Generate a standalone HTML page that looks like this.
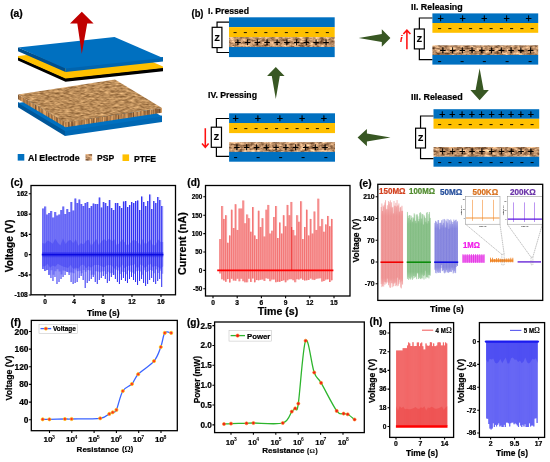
<!DOCTYPE html>
<html lang="en"><head><meta charset="utf-8"><title>PSP TENG figure</title>
<style>html,body{margin:0;padding:0;background:#fff}body{width:550px;height:462px;overflow:hidden}svg{display:block}svg text{font-family:"Liberation Sans", Arial, sans-serif}</style></head><body>
<svg width="550" height="462" viewBox="0 0 550 462">
<defs>
<filter id="psp" x="0" y="0" width="100%" height="100%" color-interpolation-filters="sRGB">
<feTurbulence type="fractalNoise" baseFrequency="0.2 0.55" numOctaves="2" seed="7" result="n"/>
<feColorMatrix in="n" type="matrix" values="0.6 0 0 0 0.43  0.55 0 0 0 0.275  0.45 0 0 0 0.125  0 0 0 0 1" result="c"/>
<feComposite in="c" in2="SourceGraphic" operator="in"/>
</filter>
<filter id="psp2" x="0" y="0" width="100%" height="100%" color-interpolation-filters="sRGB">
<feTurbulence type="fractalNoise" baseFrequency="0.2 0.36" numOctaves="3" seed="11" result="n"/>
<feColorMatrix in="n" type="matrix" values="1.1 0 0 0 0.18  1.0 0 0 0 0.055  0.85 0 0 0 -0.025  0 0 0 0 1" result="c"/>
<feComposite in="c" in2="SourceGraphic" operator="in"/>
</filter>
<filter id="pspside" x="0" y="0" width="100%" height="100%" color-interpolation-filters="sRGB">
<feTurbulence type="fractalNoise" baseFrequency="0.6 0.05" numOctaves="1" seed="3" result="n"/>
<feColorMatrix in="n" type="matrix" values="1.1 0 0 0 0.15  0.9 0 0 0 0.05  0.6 0 0 0 0.0  0 0 0 0 1" result="c"/>
<feComposite in="c" in2="SourceGraphic" operator="in"/>
</filter>
</defs>
<rect width="550" height="462" fill="#fff"/>
<g id="panel-a">
<text x="10.20" y="16.60" font-size="10.4" font-weight="bold" fill="#000" text-anchor="start" stroke="#000" stroke-width="0.22" textLength="12.60" lengthAdjust="spacingAndGlyphs">(a)</text>
<polygon points="18,102 65,130 65,136 18,107.2" fill="#00579A"/>
<polygon points="65,130 162,115.5 162,122 65,136" fill="#0068B4"/>
<polygon points="18,103 115,88 162,116.5 65,131" fill="#0070C0"/>
<polygon points="18,99.3 65.5,127.3 162,112.8 162,108 65.5,122 18,94.5" fill="#9a6a3a" filter="url(#pspside)"/>
<polygon points="18,94.5 115,79.5 162,108 65.5,122.5" fill="#b58a5a" filter="url(#psp)"/>
<polygon points="18,57 65.5,78 163,67.4 163,71.2 65.5,81.7 18,60.6" fill="#000"/>
<polygon points="18,56.1 114.5,45.6 163,66.6 163,68 65.5,78.6 18,57.5" fill="#FFC000"/>
<polygon points="18,47.5 65.5,67.6 65.5,72.1 18,51.3" fill="#004E8C"/>
<polygon points="65.5,67.6 163,57 163,61.5 65.5,72.1" fill="#0064AE"/>
<polygon points="18,47.5 114.5,37 163,58 65.5,68.6" fill="#0070C0"/>
<polygon points="81.8,11.8 93.6,23.6 87.2,23.6 81.8,54 77.3,23.6 70,23.6" fill="#C00000"/>
<rect x="17.7" y="154" width="6.6" height="6.6" fill="#0070C0"/>
<text x="28.10" y="161.00" font-size="8.8" font-weight="bold" fill="#000" text-anchor="start" stroke="#000" stroke-width="0.22" textLength="51.50" lengthAdjust="spacingAndGlyphs">Al Electrode</text>
<rect x="85.5" y="154" width="6.6" height="6.6" fill="#b58a5a" filter="url(#psp2)"/>
<text x="97.00" y="161.00" font-size="8.8" font-weight="bold" fill="#000" text-anchor="start" stroke="#000" stroke-width="0.22" textLength="17.20" lengthAdjust="spacingAndGlyphs">PSP</text>
<rect x="122.5" y="154.4" width="6.6" height="6.6" fill="#FFC000"/>
<text x="134.00" y="162.00" font-size="8.8" font-weight="bold" fill="#000" text-anchor="start" stroke="#000" stroke-width="0.22" textLength="22.00" lengthAdjust="spacingAndGlyphs">PTFE</text>
</g>
<g id="panel-b">
<text x="191.50" y="16.60" font-size="10.4" font-weight="bold" fill="#000" text-anchor="start" stroke="#000" stroke-width="0.22" textLength="12.00" lengthAdjust="spacingAndGlyphs">(b)</text>
<polygon points="390.40,38.00 381.80,46.75 381.80,42.00 358.70,38.00 381.80,34.00 381.80,29.25" fill="#385723"/>
<polygon points="479.60,100.20 470.35,89.90 475.60,89.90 479.60,68.30 483.60,89.90 488.85,89.90" fill="#385723"/>
<polygon points="357.60,137.60 366.90,128.90 366.90,133.60 390.50,137.60 366.90,141.60 366.90,146.30" fill="#385723"/>
<polygon points="275.80,67.10 284.55,76.10 279.80,76.10 275.80,99.00 271.80,76.10 267.05,76.10" fill="#385723"/>
<text x="208.00" y="14.20" font-size="8.7" font-weight="bold" fill="#000" text-anchor="start" stroke="#000" stroke-width="0.22" textLength="41.00" lengthAdjust="spacingAndGlyphs">I. Pressed</text>
<rect x="229" y="17.3" width="105.70" height="9.80" fill="#0070C0"/>
<rect x="229" y="27.1" width="105.70" height="10.10" fill="#FFC000"/>
<rect x="229" y="37.2" width="105.70" height="9.80" fill="#b58a5a" filter="url(#psp2)"/>
<rect x="229" y="47" width="105.70" height="10.10" fill="#0070C0"/>
<text x="235.10" y="36.17" font-size="12.6" font-weight="normal" fill="#1a1200" text-anchor="middle">-</text>
<text x="245.34" y="36.17" font-size="12.6" font-weight="normal" fill="#1a1200" text-anchor="middle">-</text>
<text x="255.58" y="36.17" font-size="12.6" font-weight="normal" fill="#1a1200" text-anchor="middle">-</text>
<text x="265.82" y="36.17" font-size="12.6" font-weight="normal" fill="#1a1200" text-anchor="middle">-</text>
<text x="276.06" y="36.17" font-size="12.6" font-weight="normal" fill="#1a1200" text-anchor="middle">-</text>
<text x="286.30" y="36.17" font-size="12.6" font-weight="normal" fill="#1a1200" text-anchor="middle">-</text>
<text x="296.54" y="36.17" font-size="12.6" font-weight="normal" fill="#1a1200" text-anchor="middle">-</text>
<text x="306.78" y="36.17" font-size="12.6" font-weight="normal" fill="#1a1200" text-anchor="middle">-</text>
<text x="317.02" y="36.17" font-size="12.6" font-weight="normal" fill="#1a1200" text-anchor="middle">-</text>
<text x="327.26" y="36.17" font-size="12.6" font-weight="normal" fill="#1a1200" text-anchor="middle">-</text>
<text x="237.80" y="46.30" font-size="10.6" fill="#000" stroke="#000" stroke-width="0.3" text-anchor="middle">+</text>
<text x="247.60" y="46.30" font-size="10.6" fill="#000" stroke="#000" stroke-width="0.3" text-anchor="middle">+</text>
<text x="257.40" y="46.30" font-size="10.6" fill="#000" stroke="#000" stroke-width="0.3" text-anchor="middle">+</text>
<text x="267.20" y="46.30" font-size="10.6" fill="#000" stroke="#000" stroke-width="0.3" text-anchor="middle">+</text>
<text x="277.00" y="46.30" font-size="10.6" fill="#000" stroke="#000" stroke-width="0.3" text-anchor="middle">+</text>
<text x="286.80" y="46.30" font-size="10.6" fill="#000" stroke="#000" stroke-width="0.3" text-anchor="middle">+</text>
<text x="296.60" y="46.30" font-size="10.6" fill="#000" stroke="#000" stroke-width="0.3" text-anchor="middle">+</text>
<text x="306.40" y="46.30" font-size="10.6" fill="#000" stroke="#000" stroke-width="0.3" text-anchor="middle">+</text>
<text x="316.20" y="46.30" font-size="10.6" fill="#000" stroke="#000" stroke-width="0.3" text-anchor="middle">+</text>
<text x="326.00" y="46.30" font-size="10.6" fill="#000" stroke="#000" stroke-width="0.3" text-anchor="middle">+</text>
<path d="M229 22.2H217.05V27.3M217.05 47.6V52.5H229" stroke="#000" stroke-width="1.2" fill="none"/>
<rect x="212.2" y="27.3" width="9.70" height="20.30" fill="#fff" stroke="#000" stroke-width="1.2"/>
<text x="217.05" y="40.55" font-size="8.6" font-weight="bold" fill="#000" text-anchor="middle" stroke="#000" stroke-width="0.22">Z</text>
<text x="411.00" y="9.80" font-size="8.7" font-weight="bold" fill="#000" text-anchor="start" stroke="#000" stroke-width="0.22" textLength="51.70" lengthAdjust="spacingAndGlyphs">II. Releasing</text>
<rect x="432.4" y="13.4" width="105.80" height="9.60" fill="#0070C0"/>
<rect x="432.4" y="23" width="105.80" height="9.80" fill="#FFC000"/>
<rect x="432.4" y="45.3" width="105.80" height="9.70" fill="#b58a5a" filter="url(#psp2)"/>
<rect x="432.4" y="55" width="105.80" height="9.60" fill="#0070C0"/>
<text x="440.50" y="22.20" font-size="10.6" fill="#000" stroke="#000" stroke-width="0.3" text-anchor="middle">+</text>
<text x="462.50" y="22.20" font-size="10.6" fill="#000" stroke="#000" stroke-width="0.3" text-anchor="middle">+</text>
<text x="484.40" y="22.20" font-size="10.6" fill="#000" stroke="#000" stroke-width="0.3" text-anchor="middle">+</text>
<text x="506.50" y="22.20" font-size="10.6" fill="#000" stroke="#000" stroke-width="0.3" text-anchor="middle">+</text>
<text x="528.60" y="22.20" font-size="10.6" fill="#000" stroke="#000" stroke-width="0.3" text-anchor="middle">+</text>
<text x="439.70" y="32.37" font-size="12.6" font-weight="normal" fill="#1a1200" text-anchor="middle">-</text>
<text x="449.97" y="32.37" font-size="12.6" font-weight="normal" fill="#1a1200" text-anchor="middle">-</text>
<text x="460.24" y="32.37" font-size="12.6" font-weight="normal" fill="#1a1200" text-anchor="middle">-</text>
<text x="470.51" y="32.37" font-size="12.6" font-weight="normal" fill="#1a1200" text-anchor="middle">-</text>
<text x="480.78" y="32.37" font-size="12.6" font-weight="normal" fill="#1a1200" text-anchor="middle">-</text>
<text x="491.05" y="32.37" font-size="12.6" font-weight="normal" fill="#1a1200" text-anchor="middle">-</text>
<text x="501.32" y="32.37" font-size="12.6" font-weight="normal" fill="#1a1200" text-anchor="middle">-</text>
<text x="511.59" y="32.37" font-size="12.6" font-weight="normal" fill="#1a1200" text-anchor="middle">-</text>
<text x="521.86" y="32.37" font-size="12.6" font-weight="normal" fill="#1a1200" text-anchor="middle">-</text>
<text x="532.13" y="32.37" font-size="12.6" font-weight="normal" fill="#1a1200" text-anchor="middle">-</text>
<text x="442.80" y="54.40" font-size="10.6" fill="#000" stroke="#000" stroke-width="0.3" text-anchor="middle">+</text>
<text x="452.55" y="54.40" font-size="10.6" fill="#000" stroke="#000" stroke-width="0.3" text-anchor="middle">+</text>
<text x="462.30" y="54.40" font-size="10.6" fill="#000" stroke="#000" stroke-width="0.3" text-anchor="middle">+</text>
<text x="472.05" y="54.40" font-size="10.6" fill="#000" stroke="#000" stroke-width="0.3" text-anchor="middle">+</text>
<text x="481.80" y="54.40" font-size="10.6" fill="#000" stroke="#000" stroke-width="0.3" text-anchor="middle">+</text>
<text x="491.55" y="54.40" font-size="10.6" fill="#000" stroke="#000" stroke-width="0.3" text-anchor="middle">+</text>
<text x="501.30" y="54.40" font-size="10.6" fill="#000" stroke="#000" stroke-width="0.3" text-anchor="middle">+</text>
<text x="511.05" y="54.40" font-size="10.6" fill="#000" stroke="#000" stroke-width="0.3" text-anchor="middle">+</text>
<text x="520.80" y="54.40" font-size="10.6" fill="#000" stroke="#000" stroke-width="0.3" text-anchor="middle">+</text>
<text x="530.55" y="54.40" font-size="10.6" fill="#000" stroke="#000" stroke-width="0.3" text-anchor="middle">+</text>
<text x="439.70" y="64.57" font-size="12.6" font-weight="normal" fill="#000" text-anchor="middle">-</text>
<text x="462.20" y="64.57" font-size="12.6" font-weight="normal" fill="#000" text-anchor="middle">-</text>
<text x="484.40" y="64.57" font-size="12.6" font-weight="normal" fill="#000" text-anchor="middle">-</text>
<text x="507.10" y="64.57" font-size="12.6" font-weight="normal" fill="#000" text-anchor="middle">-</text>
<text x="530.00" y="64.57" font-size="12.6" font-weight="normal" fill="#000" text-anchor="middle">-</text>
<path d="M432.4 18H419.35V29M419.35 48.9V59.6H432.4" stroke="#000" stroke-width="1.2" fill="none"/>
<rect x="414.4" y="29" width="9.90" height="19.90" fill="#fff" stroke="#000" stroke-width="1.2"/>
<text x="419.35" y="42.05" font-size="8.6" font-weight="bold" fill="#000" text-anchor="middle" stroke="#000" stroke-width="0.22">Z</text>
<path d="M406.9 49.3V31M403.4 34L406.9 30.2L410.4 34" stroke="#FF1010" stroke-width="1.55" fill="none" stroke-linejoin="miter"/>
<text x="401.30" y="41.50" font-size="9" font-weight="bold" fill="#FF1010" text-anchor="middle" stroke="#FF1010" stroke-width="0.22" style="font-style:italic">i</text>
<text x="411.00" y="100.00" font-size="8.7" font-weight="bold" fill="#000" text-anchor="start" stroke="#000" stroke-width="0.22" textLength="51.70" lengthAdjust="spacingAndGlyphs">III. Released</text>
<rect x="433.5" y="109.2" width="105.70" height="9.60" fill="#0070C0"/>
<rect x="433.5" y="118.8" width="105.70" height="9.90" fill="#FFC000"/>
<rect x="433.5" y="147" width="105.70" height="9.80" fill="#b58a5a" filter="url(#psp2)"/>
<rect x="433.5" y="156.8" width="105.70" height="9.90" fill="#0070C0"/>
<text x="442.40" y="117.90" font-size="10.6" fill="#000" stroke="#000" stroke-width="0.3" text-anchor="middle">+</text>
<text x="452.22" y="117.90" font-size="10.6" fill="#000" stroke="#000" stroke-width="0.3" text-anchor="middle">+</text>
<text x="462.04" y="117.90" font-size="10.6" fill="#000" stroke="#000" stroke-width="0.3" text-anchor="middle">+</text>
<text x="471.86" y="117.90" font-size="10.6" fill="#000" stroke="#000" stroke-width="0.3" text-anchor="middle">+</text>
<text x="481.68" y="117.90" font-size="10.6" fill="#000" stroke="#000" stroke-width="0.3" text-anchor="middle">+</text>
<text x="491.50" y="117.90" font-size="10.6" fill="#000" stroke="#000" stroke-width="0.3" text-anchor="middle">+</text>
<text x="501.32" y="117.90" font-size="10.6" fill="#000" stroke="#000" stroke-width="0.3" text-anchor="middle">+</text>
<text x="511.14" y="117.90" font-size="10.6" fill="#000" stroke="#000" stroke-width="0.3" text-anchor="middle">+</text>
<text x="520.96" y="117.90" font-size="10.6" fill="#000" stroke="#000" stroke-width="0.3" text-anchor="middle">+</text>
<text x="530.78" y="117.90" font-size="10.6" fill="#000" stroke="#000" stroke-width="0.3" text-anchor="middle">+</text>
<text x="439.60" y="127.67" font-size="12.6" font-weight="normal" fill="#1a1200" text-anchor="middle">-</text>
<text x="449.89" y="127.67" font-size="12.6" font-weight="normal" fill="#1a1200" text-anchor="middle">-</text>
<text x="460.18" y="127.67" font-size="12.6" font-weight="normal" fill="#1a1200" text-anchor="middle">-</text>
<text x="470.47" y="127.67" font-size="12.6" font-weight="normal" fill="#1a1200" text-anchor="middle">-</text>
<text x="480.76" y="127.67" font-size="12.6" font-weight="normal" fill="#1a1200" text-anchor="middle">-</text>
<text x="491.05" y="127.67" font-size="12.6" font-weight="normal" fill="#1a1200" text-anchor="middle">-</text>
<text x="501.34" y="127.67" font-size="12.6" font-weight="normal" fill="#1a1200" text-anchor="middle">-</text>
<text x="511.63" y="127.67" font-size="12.6" font-weight="normal" fill="#1a1200" text-anchor="middle">-</text>
<text x="521.92" y="127.67" font-size="12.6" font-weight="normal" fill="#1a1200" text-anchor="middle">-</text>
<text x="532.21" y="127.67" font-size="12.6" font-weight="normal" fill="#1a1200" text-anchor="middle">-</text>
<text x="442.70" y="154.90" font-size="10.6" fill="#000" stroke="#000" stroke-width="0.3" text-anchor="middle">+</text>
<text x="452.50" y="154.90" font-size="10.6" fill="#000" stroke="#000" stroke-width="0.3" text-anchor="middle">+</text>
<text x="462.30" y="154.90" font-size="10.6" fill="#000" stroke="#000" stroke-width="0.3" text-anchor="middle">+</text>
<text x="472.10" y="154.90" font-size="10.6" fill="#000" stroke="#000" stroke-width="0.3" text-anchor="middle">+</text>
<text x="481.90" y="154.90" font-size="10.6" fill="#000" stroke="#000" stroke-width="0.3" text-anchor="middle">+</text>
<text x="491.70" y="154.90" font-size="10.6" fill="#000" stroke="#000" stroke-width="0.3" text-anchor="middle">+</text>
<text x="501.50" y="154.90" font-size="10.6" fill="#000" stroke="#000" stroke-width="0.3" text-anchor="middle">+</text>
<text x="511.30" y="154.90" font-size="10.6" fill="#000" stroke="#000" stroke-width="0.3" text-anchor="middle">+</text>
<text x="521.10" y="154.90" font-size="10.6" fill="#000" stroke="#000" stroke-width="0.3" text-anchor="middle">+</text>
<text x="530.90" y="154.90" font-size="10.6" fill="#000" stroke="#000" stroke-width="0.3" text-anchor="middle">+</text>
<text x="439.60" y="165.77" font-size="12.6" font-weight="normal" fill="#000" text-anchor="middle">-</text>
<text x="449.89" y="165.77" font-size="12.6" font-weight="normal" fill="#000" text-anchor="middle">-</text>
<text x="460.18" y="165.77" font-size="12.6" font-weight="normal" fill="#000" text-anchor="middle">-</text>
<text x="470.47" y="165.77" font-size="12.6" font-weight="normal" fill="#000" text-anchor="middle">-</text>
<text x="480.76" y="165.77" font-size="12.6" font-weight="normal" fill="#000" text-anchor="middle">-</text>
<text x="491.05" y="165.77" font-size="12.6" font-weight="normal" fill="#000" text-anchor="middle">-</text>
<text x="501.34" y="165.77" font-size="12.6" font-weight="normal" fill="#000" text-anchor="middle">-</text>
<text x="511.63" y="165.77" font-size="12.6" font-weight="normal" fill="#000" text-anchor="middle">-</text>
<text x="521.92" y="165.77" font-size="12.6" font-weight="normal" fill="#000" text-anchor="middle">-</text>
<text x="532.21" y="165.77" font-size="12.6" font-weight="normal" fill="#000" text-anchor="middle">-</text>
<path d="M433.5 116H420.55V128.2M420.55 148V158.7H433.5" stroke="#000" stroke-width="1.2" fill="none"/>
<rect x="415.6" y="128.2" width="9.90" height="19.80" fill="#fff" stroke="#000" stroke-width="1.2"/>
<text x="420.55" y="141.20" font-size="8.6" font-weight="bold" fill="#000" text-anchor="middle" stroke="#000" stroke-width="0.22">Z</text>
<text x="208.00" y="98.00" font-size="8.7" font-weight="bold" fill="#000" text-anchor="start" stroke="#000" stroke-width="0.22" textLength="49.00" lengthAdjust="spacingAndGlyphs">IV. Pressing</text>
<rect x="229.1" y="113.3" width="105.90" height="9.70" fill="#0070C0"/>
<rect x="229.1" y="123" width="105.90" height="10.10" fill="#FFC000"/>
<rect x="229.1" y="142.1" width="105.90" height="9.80" fill="#b58a5a" filter="url(#psp2)"/>
<rect x="229.1" y="151.9" width="105.90" height="9.80" fill="#0070C0"/>
<text x="235.70" y="122.00" font-size="10.6" fill="#000" stroke="#000" stroke-width="0.3" text-anchor="middle">+</text>
<text x="257.90" y="122.00" font-size="10.6" fill="#000" stroke="#000" stroke-width="0.3" text-anchor="middle">+</text>
<text x="279.80" y="122.00" font-size="10.6" fill="#000" stroke="#000" stroke-width="0.3" text-anchor="middle">+</text>
<text x="302.00" y="122.00" font-size="10.6" fill="#000" stroke="#000" stroke-width="0.3" text-anchor="middle">+</text>
<text x="323.90" y="122.00" font-size="10.6" fill="#000" stroke="#000" stroke-width="0.3" text-anchor="middle">+</text>
<text x="235.70" y="132.07" font-size="12.6" font-weight="normal" fill="#1a1200" text-anchor="middle">-</text>
<text x="245.92" y="132.07" font-size="12.6" font-weight="normal" fill="#1a1200" text-anchor="middle">-</text>
<text x="256.14" y="132.07" font-size="12.6" font-weight="normal" fill="#1a1200" text-anchor="middle">-</text>
<text x="266.36" y="132.07" font-size="12.6" font-weight="normal" fill="#1a1200" text-anchor="middle">-</text>
<text x="276.58" y="132.07" font-size="12.6" font-weight="normal" fill="#1a1200" text-anchor="middle">-</text>
<text x="286.80" y="132.07" font-size="12.6" font-weight="normal" fill="#1a1200" text-anchor="middle">-</text>
<text x="297.02" y="132.07" font-size="12.6" font-weight="normal" fill="#1a1200" text-anchor="middle">-</text>
<text x="307.24" y="132.07" font-size="12.6" font-weight="normal" fill="#1a1200" text-anchor="middle">-</text>
<text x="317.46" y="132.07" font-size="12.6" font-weight="normal" fill="#1a1200" text-anchor="middle">-</text>
<text x="327.68" y="132.07" font-size="12.6" font-weight="normal" fill="#1a1200" text-anchor="middle">-</text>
<text x="236.90" y="151.20" font-size="10.6" fill="#000" stroke="#000" stroke-width="0.3" text-anchor="middle">+</text>
<text x="246.70" y="151.20" font-size="10.6" fill="#000" stroke="#000" stroke-width="0.3" text-anchor="middle">+</text>
<text x="256.50" y="151.20" font-size="10.6" fill="#000" stroke="#000" stroke-width="0.3" text-anchor="middle">+</text>
<text x="266.30" y="151.20" font-size="10.6" fill="#000" stroke="#000" stroke-width="0.3" text-anchor="middle">+</text>
<text x="276.10" y="151.20" font-size="10.6" fill="#000" stroke="#000" stroke-width="0.3" text-anchor="middle">+</text>
<text x="285.90" y="151.20" font-size="10.6" fill="#000" stroke="#000" stroke-width="0.3" text-anchor="middle">+</text>
<text x="295.70" y="151.20" font-size="10.6" fill="#000" stroke="#000" stroke-width="0.3" text-anchor="middle">+</text>
<text x="305.50" y="151.20" font-size="10.6" fill="#000" stroke="#000" stroke-width="0.3" text-anchor="middle">+</text>
<text x="315.30" y="151.20" font-size="10.6" fill="#000" stroke="#000" stroke-width="0.3" text-anchor="middle">+</text>
<text x="325.10" y="151.20" font-size="10.6" fill="#000" stroke="#000" stroke-width="0.3" text-anchor="middle">+</text>
<text x="235.70" y="160.87" font-size="12.6" font-weight="normal" fill="#000" text-anchor="middle">-</text>
<text x="258.20" y="160.87" font-size="12.6" font-weight="normal" fill="#000" text-anchor="middle">-</text>
<text x="280.60" y="160.87" font-size="12.6" font-weight="normal" fill="#000" text-anchor="middle">-</text>
<text x="303.20" y="160.87" font-size="12.6" font-weight="normal" fill="#000" text-anchor="middle">-</text>
<text x="325.80" y="160.87" font-size="12.6" font-weight="normal" fill="#000" text-anchor="middle">-</text>
<path d="M229.1 118.5H216.40V127.2M216.40 147.3V156.3H229.1" stroke="#000" stroke-width="1.2" fill="none"/>
<rect x="211.3" y="127.2" width="10.20" height="20.10" fill="#fff" stroke="#000" stroke-width="1.2"/>
<text x="216.40" y="140.35" font-size="8.6" font-weight="bold" fill="#000" text-anchor="middle" stroke="#000" stroke-width="0.22">Z</text>
<path d="M205.3 128.2V146.8M202 143.6L205.3 147.4L208.6 143.6" stroke="#FF1010" stroke-width="1.55" fill="none" stroke-linejoin="miter"/>
</g>
<g id="panel-c">
<text x="10.50" y="186.20" font-size="10.4" font-weight="bold" fill="#000" text-anchor="start" stroke="#000" stroke-width="0.22" textLength="12.40" lengthAdjust="spacingAndGlyphs">(c)</text>
<path d="M42.40 208.50h2.06V269.00h-2.06zM44.41 206.50h2.06V271.00h-2.06zM46.43 214.50h2.06V270.00h-2.06zM48.44 213.00h2.06V274.81h-2.06zM50.45 211.00h2.06V270.18h-2.06zM52.47 217.50h2.06V274.79h-2.06zM54.48 212.00h2.06V271.30h-2.06zM56.49 215.50h2.06V269.13h-2.06zM58.51 214.50h2.06V271.49h-2.06zM60.52 210.00h2.06V274.61h-2.06zM62.54 206.50h2.06V270.58h-2.06zM64.55 214.00h2.06V270.99h-2.06zM66.56 209.00h2.06V272.00h-2.06zM68.58 212.00h2.06V272.52h-2.06zM70.59 202.00h2.06V272.58h-2.06zM72.60 210.50h2.06V273.25h-2.06zM74.62 198.50h2.06V269.40h-2.06zM76.63 203.00h2.06V271.13h-2.06zM78.64 199.50h2.06V270.84h-2.06zM80.66 204.00h2.06V273.18h-2.06zM82.67 206.00h2.06V270.11h-2.06zM84.68 203.00h2.06V271.84h-2.06zM86.70 202.00h2.06V270.06h-2.06zM88.71 208.00h2.06V270.54h-2.06zM90.73 206.00h2.06V274.63h-2.06zM92.74 203.50h2.06V274.70h-2.06zM94.75 204.00h2.06V271.15h-2.06zM96.77 204.00h2.06V271.43h-2.06zM98.78 197.50h2.06V272.29h-2.06zM100.79 207.50h2.06V271.51h-2.06zM102.81 202.00h2.06V271.26h-2.06zM104.82 203.00h2.06V274.05h-2.06zM106.83 206.00h2.06V271.72h-2.06zM108.85 200.00h2.06V273.25h-2.06zM110.86 208.00h2.06V272.74h-2.06zM112.87 210.00h2.06V274.73h-2.06zM114.89 203.00h2.06V269.71h-2.06zM116.90 203.00h2.06V270.48h-2.06zM118.92 206.00h2.06V273.92h-2.06zM120.93 208.00h2.06V271.77h-2.06zM122.94 201.50h2.06V272.07h-2.06zM124.96 201.00h2.06V274.36h-2.06zM126.97 207.00h2.06V270.51h-2.06zM128.98 205.00h2.06V271.78h-2.06zM131.00 202.00h2.06V272.54h-2.06zM133.01 203.00h2.06V273.69h-2.06zM135.02 201.00h2.06V271.20h-2.06zM137.04 200.50h2.06V270.78h-2.06zM139.05 210.00h2.06V271.60h-2.06zM141.06 196.50h2.06V274.87h-2.06zM143.08 202.00h2.06V270.25h-2.06zM145.09 206.00h2.06V272.08h-2.06zM147.11 201.00h2.06V271.18h-2.06zM149.12 194.50h2.06V269.89h-2.06zM151.13 209.00h2.06V270.65h-2.06zM153.15 201.00h2.06V273.22h-2.06zM155.16 203.00h2.06V269.55h-2.06zM157.17 197.00h2.06V273.12h-2.06zM159.19 200.00h2.06V270.84h-2.06zM161.20 206.00h2.06V273.79h-2.06z" fill="#b0b0fb" opacity="1.0"/>
<polygon points="42.40,243.01 44.97,243.77 47.54,240.47 50.11,241.87 52.68,243.76 55.25,238.65 57.82,242.81 60.39,245.39 62.96,238.25 65.53,243.92 68.11,240.75 70.68,240.00 73.25,243.21 75.82,239.17 78.39,245.83 80.96,243.11 83.53,244.41 86.10,240.67 88.67,239.66 91.24,245.85 93.81,242.51 96.38,239.06 98.95,245.17 101.52,241.31 104.09,239.35 106.66,240.98 109.23,238.47 111.80,241.37 114.37,239.13 116.94,245.38 119.52,242.96 122.09,239.35 124.66,242.18 127.23,245.68 129.80,243.51 132.37,240.54 134.94,240.19 137.51,241.76 140.08,245.21 142.65,238.90 145.22,244.58 147.79,242.25 150.36,239.44 152.93,245.50 155.50,244.94 158.07,239.44 160.64,241.93 163.21,242.12 163.21,266.34 160.64,268.65 158.07,266.89 155.50,265.79 152.93,267.19 150.36,263.93 147.79,265.06 145.22,268.20 142.65,265.49 140.08,264.59 137.51,268.89 134.94,264.28 132.37,265.34 129.80,265.50 127.23,265.97 124.66,268.27 122.09,264.45 119.52,268.57 116.94,265.75 114.37,268.66 111.80,265.40 109.23,265.01 106.66,265.46 104.09,267.21 101.52,266.25 98.95,265.09 96.38,265.01 93.81,265.29 91.24,267.76 88.67,266.11 86.10,268.19 83.53,264.48 80.96,265.37 78.39,268.76 75.82,267.44 73.25,268.90 70.68,264.96 68.11,268.09 65.53,267.18 62.96,266.58 60.39,265.18 57.82,263.69 55.25,266.73 52.68,265.46 50.11,267.87 47.54,263.85 44.97,266.27 42.40,266.51" fill="#4a4af3" opacity="0.48"/>
<path d="M42.90 208.50V269.00M44.91 206.50V271.00M46.93 214.50V270.00M48.94 213.00V275.00M50.95 211.00V278.00M52.97 217.50V281.00M54.98 212.00V277.00M56.99 215.50V284.00M59.01 214.50V282.00M61.02 210.00V279.00M63.04 206.50V277.00M65.05 214.00V275.00M67.06 209.00V272.00M69.08 212.00V275.00M71.09 202.00V282.00M73.10 210.50V284.00M75.12 198.50V283.00M77.13 203.00V282.00M79.14 199.50V278.00M81.16 204.00V276.00M83.17 206.00V280.00M85.18 203.00V288.00M87.20 202.00V283.00M89.21 208.00V281.00M91.23 206.00V279.00M93.24 203.50V277.00M95.25 204.00V282.00M97.27 204.00V284.00M99.28 197.50V280.00M101.29 207.50V278.00M103.31 202.00V276.00M105.32 203.00V279.00M107.33 206.00V283.00M109.35 200.00V281.00M111.36 208.00V277.00M113.37 210.00V275.00M115.39 203.00V279.00M117.40 203.00V282.00M119.42 206.00V284.00M121.43 208.00V280.00M123.44 201.50V278.00M125.46 201.00V281.00M127.47 207.00V283.00M129.48 205.00V279.00M131.50 202.00V277.00M133.51 203.00V280.00M135.52 201.00V282.00M137.54 200.50V285.00M139.55 210.00V281.00M141.56 196.50V279.00M143.58 202.00V283.00M145.59 206.00V286.00M147.61 201.00V284.00M149.62 194.50V280.00M151.63 209.00V278.00M153.65 201.00V282.00M155.66 203.00V284.00M157.67 197.00V281.00M159.69 200.00V279.00M161.70 206.00V287.00" stroke="#3232f2" stroke-width="1.05" fill="none" opacity="1.0"/>
<rect x="42.4" y="252.00" width="120.81" height="5.2" fill="#2a2af0" opacity="0.5"/>
<path d="M41.8 254.6H163.4" stroke="#0a0ae0" stroke-width="1.7"/>
<rect x="31.00" y="185.50" width="144.50" height="109.30" fill="none" stroke="#000" stroke-width="1.3"/>
<text x="27.80" y="196.18" font-size="6.6" font-weight="bold" fill="#000" text-anchor="end" stroke="#000" stroke-width="0.22">162</text>
<text x="27.80" y="216.48" font-size="6.6" font-weight="bold" fill="#000" text-anchor="end" stroke="#000" stroke-width="0.22">108</text>
<text x="27.80" y="236.78" font-size="6.6" font-weight="bold" fill="#000" text-anchor="end" stroke="#000" stroke-width="0.22">54</text>
<text x="27.80" y="256.98" font-size="6.6" font-weight="bold" fill="#000" text-anchor="end" stroke="#000" stroke-width="0.22">0</text>
<text x="27.80" y="277.28" font-size="6.6" font-weight="bold" fill="#000" text-anchor="end" stroke="#000" stroke-width="0.22">-54</text>
<text x="27.80" y="297.38" font-size="6.6" font-weight="bold" fill="#000" text-anchor="end" stroke="#000" stroke-width="0.22">-108</text>
<path d="M28.80 193.80H31.00M28.80 214.10H31.00M28.80 234.40H31.00M28.80 254.60H31.00M28.80 274.90H31.00M28.80 295.00H31.00" stroke="#000" stroke-width="1.1" fill="none"/>
<text x="45.00" y="304.20" font-size="6.6" font-weight="bold" fill="#000" text-anchor="middle" stroke="#000" stroke-width="0.22">0</text>
<text x="74.00" y="304.20" font-size="6.6" font-weight="bold" fill="#000" text-anchor="middle" stroke="#000" stroke-width="0.22">4</text>
<text x="103.00" y="304.20" font-size="6.6" font-weight="bold" fill="#000" text-anchor="middle" stroke="#000" stroke-width="0.22">8</text>
<text x="132.00" y="304.20" font-size="6.6" font-weight="bold" fill="#000" text-anchor="middle" stroke="#000" stroke-width="0.22">12</text>
<text x="161.00" y="304.20" font-size="6.6" font-weight="bold" fill="#000" text-anchor="middle" stroke="#000" stroke-width="0.22">16</text>
<path d="M45.00 294.80V297.00M74.00 294.80V297.00M103.00 294.80V297.00M132.00 294.80V297.00M161.00 294.80V297.00" stroke="#000" stroke-width="1.1" fill="none"/>
<text transform="translate(12.50,246.00) rotate(-90)" font-size="10" font-weight="bold" fill="#000" stroke="#000" stroke-width="0.22" text-anchor="middle" textLength="52.60" lengthAdjust="spacingAndGlyphs">Voltage (V)</text>
<text x="103.20" y="316.30" font-size="8.8" font-weight="bold" fill="#000" text-anchor="middle" stroke="#000" stroke-width="0.22" textLength="32.60" lengthAdjust="spacingAndGlyphs">Time (s)</text>
</g>
<g id="panel-d">
<text x="187.30" y="186.20" font-size="10.4" font-weight="bold" fill="#000" text-anchor="start" stroke="#000" stroke-width="0.22" textLength="12.80" lengthAdjust="spacingAndGlyphs">(d)</text>
<path d="M219.40 239.12h1.97V273.40h-1.97zM221.32 206.00h1.97V279.26h-1.97zM223.25 218.88h1.97V280.39h-1.97zM225.17 215.20h1.97V281.80h-1.97zM227.10 242.80h1.97V279.12h-1.97zM229.02 235.44h1.97V282.38h-1.97zM230.94 209.68h1.97V278.78h-1.97zM232.87 228.08h1.97V280.54h-1.97zM234.79 204.16h1.97V280.71h-1.97zM236.72 229.92h1.97V278.71h-1.97zM238.64 208.58h1.97V281.32h-1.97zM240.57 208.58h1.97V278.71h-1.97zM242.49 200.48h1.97V281.13h-1.97zM244.41 223.30h1.97V282.34h-1.97zM246.34 214.46h1.97V282.31h-1.97zM248.26 218.14h1.97V278.65h-1.97zM250.19 231.76h1.97V281.91h-1.97zM252.11 207.10h1.97V278.40h-1.97zM254.03 235.44h1.97V282.26h-1.97zM255.96 239.12h1.97V280.07h-1.97zM257.88 210.78h1.97V280.37h-1.97zM259.81 226.98h1.97V279.77h-1.97zM261.73 218.14h1.97V279.48h-1.97zM263.66 236.54h1.97V280.88h-1.97zM265.58 209.68h1.97V278.22h-1.97zM267.50 204.90h1.97V278.82h-1.97zM269.43 233.60h1.97V281.13h-1.97zM271.35 230.66h1.97V279.58h-1.97zM273.28 217.04h1.97V279.48h-1.97zM275.20 206.00h1.97V282.18h-1.97zM277.12 238.02h1.97V281.75h-1.97zM279.05 222.56h1.97V281.80h-1.97zM280.97 233.60h1.97V281.00h-1.97zM282.90 215.20h1.97V280.36h-1.97zM284.82 226.24h1.97V282.24h-1.97zM286.74 204.90h1.97V280.37h-1.97zM288.67 215.20h1.97V279.26h-1.97zM290.59 201.95h1.97V279.23h-1.97zM292.52 229.92h1.97V280.21h-1.97zM294.44 235.44h1.97V282.18h-1.97zM296.37 215.20h1.97V279.22h-1.97zM298.29 221.82h1.97V279.48h-1.97zM300.21 201.22h1.97V278.48h-1.97zM302.14 239.12h1.97V279.74h-1.97zM304.06 226.98h1.97V280.44h-1.97zM305.99 209.68h1.97V280.32h-1.97zM307.91 235.44h1.97V280.00h-1.97zM309.83 218.88h1.97V278.61h-1.97zM311.76 233.60h1.97V279.62h-1.97zM313.68 211.52h1.97V280.05h-1.97zM315.61 229.92h1.97V278.80h-1.97zM317.53 198.64h1.97V278.50h-1.97zM319.46 226.24h1.97V278.31h-1.97zM321.38 218.88h1.97V281.60h-1.97zM323.30 231.76h1.97V280.88h-1.97zM325.23 224.40h1.97V279.62h-1.97zM327.15 215.94h1.97V279.37h-1.97zM329.08 226.24h1.97V282.02h-1.97zM331.00 218.88h1.97V280.33h-1.97z" fill="#f8a9a9" opacity="1.0"/>
<path d="M219.85 239.12V273.40M221.77 206.00V279.26M223.70 218.88V280.39M225.62 215.20V281.80M227.55 242.80V279.12M229.47 235.44V282.38M231.39 209.68V278.78M233.32 228.08V280.54M235.24 204.16V280.71M237.17 229.92V278.71M239.09 208.58V281.32M241.02 208.58V278.71M242.94 200.48V281.13M244.86 223.30V282.34M246.79 214.46V282.31M248.71 218.14V278.65M250.64 231.76V281.91M252.56 207.10V278.40M254.48 235.44V282.26M256.41 239.12V280.07M258.33 210.78V280.37M260.26 226.98V279.77M262.18 218.14V279.48M264.11 236.54V280.88M266.03 209.68V278.22M267.95 204.90V278.82M269.88 233.60V281.13M271.80 230.66V279.58M273.73 217.04V279.48M275.65 206.00V282.18M277.57 238.02V281.75M279.50 222.56V281.80M281.42 233.60V281.00M283.35 215.20V280.36M285.27 226.24V282.24M287.19 204.90V280.37M289.12 215.20V279.26M291.04 201.95V279.23M292.97 229.92V280.21M294.89 235.44V282.18M296.82 215.20V279.22M298.74 221.82V279.48M300.66 201.22V278.48M302.59 239.12V279.74M304.51 226.98V280.44M306.44 209.68V280.32M308.36 235.44V280.00M310.28 218.88V278.61M312.21 233.60V279.62M314.13 211.52V280.05M316.06 229.92V278.80M317.98 198.64V278.50M319.91 226.24V278.31M321.83 218.88V281.60M323.75 231.76V280.88M325.68 224.40V279.62M327.60 215.94V279.37M329.53 226.24V282.02M331.45 218.88V280.33" stroke="#f26c6c" stroke-width="0.9" fill="none" opacity="1.0"/>
<path d="M291.7 270.4V227" stroke="#f03030" stroke-width="0.9"/>
<path d="M217.2 270.4H333.4" stroke="#ff0000" stroke-width="1.9"/>
<rect x="205.50" y="185.50" width="144.50" height="110.50" fill="none" stroke="#000" stroke-width="1.3"/>
<text x="202.30" y="199.10" font-size="6.4" font-weight="bold" fill="#000" text-anchor="end" stroke="#000" stroke-width="0.22">200</text>
<text x="202.30" y="217.50" font-size="6.4" font-weight="bold" fill="#000" text-anchor="end" stroke="#000" stroke-width="0.22">150</text>
<text x="202.30" y="235.90" font-size="6.4" font-weight="bold" fill="#000" text-anchor="end" stroke="#000" stroke-width="0.22">100</text>
<text x="202.30" y="254.30" font-size="6.4" font-weight="bold" fill="#000" text-anchor="end" stroke="#000" stroke-width="0.22">50</text>
<text x="202.30" y="272.70" font-size="6.4" font-weight="bold" fill="#000" text-anchor="end" stroke="#000" stroke-width="0.22">0</text>
<text x="202.30" y="291.10" font-size="6.4" font-weight="bold" fill="#000" text-anchor="end" stroke="#000" stroke-width="0.22">-50</text>
<path d="M203.30 196.80H205.50M203.30 215.20H205.50M203.30 233.60H205.50M203.30 252.00H205.50M203.30 270.40H205.50M203.30 288.80H205.50" stroke="#000" stroke-width="1.1" fill="none"/>
<text x="213.00" y="305.20" font-size="6.6" font-weight="bold" fill="#000" text-anchor="middle" stroke="#000" stroke-width="0.22">0</text>
<text x="237.20" y="305.20" font-size="6.6" font-weight="bold" fill="#000" text-anchor="middle" stroke="#000" stroke-width="0.22">3</text>
<text x="261.40" y="305.20" font-size="6.6" font-weight="bold" fill="#000" text-anchor="middle" stroke="#000" stroke-width="0.22">6</text>
<text x="285.60" y="305.20" font-size="6.6" font-weight="bold" fill="#000" text-anchor="middle" stroke="#000" stroke-width="0.22">9</text>
<text x="309.80" y="305.20" font-size="6.6" font-weight="bold" fill="#000" text-anchor="middle" stroke="#000" stroke-width="0.22">12</text>
<text x="334.00" y="305.20" font-size="6.6" font-weight="bold" fill="#000" text-anchor="middle" stroke="#000" stroke-width="0.22">15</text>
<path d="M213.00 296.00V298.20M237.20 296.00V298.20M261.40 296.00V298.20M285.60 296.00V298.20M309.80 296.00V298.20M334.00 296.00V298.20" stroke="#000" stroke-width="1.1" fill="none"/>
<text transform="translate(186.00,243.60) rotate(-90)" font-size="10.6" font-weight="bold" fill="#000" stroke="#000" stroke-width="0.22" text-anchor="middle" textLength="63.00" lengthAdjust="spacingAndGlyphs">Current (nA)</text>
<text x="278.00" y="315.30" font-size="10.8" font-weight="bold" fill="#000" text-anchor="middle" stroke="#000" stroke-width="0.22" textLength="40.40" lengthAdjust="spacingAndGlyphs">Time (s)</text>
</g>
<g id="panel-e">
<text x="359.20" y="187.20" font-size="10.4" font-weight="bold" fill="#000" text-anchor="start" stroke="#000" stroke-width="0.22" textLength="12.40" lengthAdjust="spacingAndGlyphs">(e)</text>
<linearGradient id="gb1" gradientUnits="userSpaceOnUse" x1="0" y1="200.0" x2="0" y2="288.6"><stop offset="0" stop-color="#f4aeae"/><stop offset="0.18" stop-color="#ec8585"/><stop offset="0.88" stop-color="#ec8585"/><stop offset="1" stop-color="#f4aeae"/></linearGradient>
<path d="M381.25 207.01V284.00M381.86 203.43V287.14M382.47 210.96V286.28M383.08 205.67V284.05M383.68 206.84V286.59M384.29 204.75V281.86M384.90 202.41V284.81M385.51 200.16V282.32M386.12 209.84V283.76M386.73 208.86V282.42M387.34 205.28V278.67M387.94 209.47V282.45M388.55 201.09V285.21M389.16 203.84V282.81M389.77 201.95V287.44M390.38 200.29V287.91M390.99 206.75V280.53M391.60 202.29V283.21M392.20 207.94V287.29M392.81 206.91V283.41M393.42 213.37V286.36M394.03 201.01V283.85M394.64 205.66V282.78M395.25 205.85V286.12M395.86 202.80V282.60M396.46 206.50V285.23M397.07 200.02V286.33M397.68 205.49V277.69M398.29 205.50V285.75M398.90 203.44V283.92M399.51 211.57V279.75M400.12 207.63V282.42M400.72 206.87V287.50M401.33 210.85V288.44M401.94 205.76V281.32M402.55 210.79V284.57" stroke="url(#gb1)" stroke-width="0.9" fill="none" opacity="0.9"/>
<path d="M380.50 262.2H403.30" stroke="#f00000" stroke-width="1.6"/>
<linearGradient id="gb2" gradientUnits="userSpaceOnUse" x1="0" y1="211.8" x2="0" y2="280.0"><stop offset="0" stop-color="#a2d0a2"/><stop offset="0.18" stop-color="#76b676"/><stop offset="0.88" stop-color="#76b676"/><stop offset="1" stop-color="#a2d0a2"/></linearGradient>
<path d="M407.45 211.93V278.93M408.06 215.93V277.27M408.68 218.02V279.97M409.29 215.07V278.57M409.90 215.13V278.28M410.52 219.65V279.56M411.13 215.70V278.40M411.74 217.91V276.81M412.36 221.58V279.97M412.97 217.20V278.88M413.59 218.36V276.04M414.20 213.32V278.04M414.81 214.51V276.35M415.43 220.74V277.27M416.04 223.23V275.85M416.65 214.52V279.18M417.27 214.38V272.83M417.88 216.35V273.58M418.49 221.17V279.02M419.11 218.95V277.36M419.72 213.10V278.22M420.33 212.07V278.91M420.95 213.21V279.17M421.56 218.55V278.20M422.17 214.31V274.75M422.79 213.96V278.48M423.40 224.53V275.94M424.01 215.13V279.63M424.63 216.50V275.43M425.24 218.06V270.81M425.86 221.82V278.65M426.47 212.59V277.21M427.08 223.50V277.12M427.70 212.04V277.61M428.31 221.07V275.06M428.92 214.08V278.44M429.54 211.96V275.00M430.15 217.91V275.69" stroke="url(#gb2)" stroke-width="0.9" fill="none" opacity="0.9"/>
<path d="M406.70 262.2H430.90" stroke="#0c8c0c" stroke-width="1.6"/>
<linearGradient id="gb3" gradientUnits="userSpaceOnUse" x1="0" y1="218.7" x2="0" y2="273.7"><stop offset="0" stop-color="#a4a4e8"/><stop offset="0.18" stop-color="#7676da"/><stop offset="0.88" stop-color="#7676da"/><stop offset="1" stop-color="#a4a4e8"/></linearGradient>
<path d="M434.95 222.83V269.81M435.56 220.83V273.12M436.17 221.54V270.61M436.77 222.40V273.34M437.38 223.83V272.55M437.99 220.16V271.61M438.60 220.02V273.00M439.21 222.92V271.81M439.81 229.31V272.86M440.42 222.78V272.95M441.03 222.78V268.12M441.64 220.22V265.11M442.25 224.79V271.16M442.86 219.46V270.73M443.46 222.84V270.17M444.07 218.95V272.74M444.68 219.26V273.39M445.29 227.37V272.74M445.90 220.32V271.63M446.50 221.34V270.16M447.11 218.88V272.49M447.72 222.62V272.16M448.33 219.34V272.97M448.94 228.96V272.44M449.54 220.07V271.80M450.15 224.10V271.93M450.76 219.36V271.55M451.37 220.60V272.06M451.98 221.98V267.59M452.59 223.91V270.37M453.19 221.91V273.54M453.80 219.46V272.80M454.41 221.00V270.92M455.02 220.47V272.82M455.63 219.91V273.17M456.23 219.61V266.87M456.84 222.24V264.87M457.45 221.21V265.97" stroke="url(#gb3)" stroke-width="0.9" fill="none" opacity="0.9"/>
<path d="M434.20 262.2H458.20" stroke="#1010e0" stroke-width="1.6"/>
<rect x="462.6" y="255.2" width="21.8" height="7.4" fill="#ee7aee"/>
<path d="M463.00 254.20V262.80M465.10 254.20V262.80M467.20 254.20V262.80M469.30 254.20V262.80M471.40 254.20V262.80M473.50 254.20V262.80M475.60 254.20V262.80M477.70 254.20V262.80M479.80 254.20V262.80M481.90 254.20V262.80M484.00 254.20V262.80" stroke="#e42ce4" stroke-width="0.9" fill="none" opacity="1.0"/>
<path d="M490 260.6H513.2" stroke="#f2933a" stroke-width="2.4"/>
<path d="M490.50 257.65V262.40M492.53 257.72V262.40M494.55 258.95V262.40M496.58 258.02V262.40M498.61 258.09V262.40M500.64 258.72V262.40M502.66 258.91V262.40M504.69 258.45V262.40M506.72 258.39V262.40M508.75 258.28V262.40M510.77 257.73V262.40M512.80 257.77V262.40" stroke="#ee7d1e" stroke-width="0.8" fill="none" opacity="1.0"/>
<path d="M517.6 261.9H541" stroke="#6a28d8" stroke-width="1.4"/>
<path d="M465.5 224.2L501.8 254.4M500 224.2L504.2 254.4M507.3 224.2L531 257.2M542.4 224.2L532.8 257.2" stroke="#777" stroke-width="0.45" fill="none" stroke-dasharray="1.6 0.6"/>
<rect x="501.8" y="254.4" width="2.4" height="10.6" fill="none" stroke="#777" stroke-width="0.4" stroke-dasharray="1 0.7"/>
<rect x="531" y="257.2" width="1.9" height="7.6" fill="none" stroke="#777" stroke-width="0.4" stroke-dasharray="1 0.7"/>
<rect x="465.5" y="196.7" width="34.50" height="27.50" fill="#fff" stroke="#8a8a8a" stroke-width="0.5"/>
<path d="M472.50 199.80V220.80M482.50 199.80V220.80M493.50 199.80V220.80" stroke="#f8b478" stroke-width="0.9" fill="none" opacity="1.0"/>
<path d="M466.00 218.00H499.50" stroke="#f08a28" stroke-width="0.9"/>
<text x="482.75" y="226.60" font-size="1.9" font-weight="bold" fill="#222" text-anchor="middle">Time (s)</text>
<text transform="translate(461.90,210.45) rotate(-90)" font-size="1.9" font-weight="bold" text-anchor="middle" fill="#222">Voltage (V)</text>
<text x="464.70" y="218.70" font-size="1.7" font-weight="bold" fill="#222" text-anchor="end">0</text>
<text x="464.70" y="209.50" font-size="1.7" font-weight="bold" fill="#222" text-anchor="end">10</text>
<text x="464.70" y="200.30" font-size="1.7" font-weight="bold" fill="#222" text-anchor="end">20</text>
<rect x="507.3" y="196.7" width="35.10" height="27.50" fill="#fff" stroke="#8a8a8a" stroke-width="0.5"/>
<path d="M513.50 202.40V222.00M524.50 202.40V222.00M534.50 202.40V222.00" stroke="#b48af0" stroke-width="0.9" fill="none" opacity="1.0"/>
<path d="M507.80 219.20H541.90" stroke="#5a14e0" stroke-width="1.2"/>
<text x="524.85" y="226.60" font-size="1.9" font-weight="bold" fill="#222" text-anchor="middle">Time (s)</text>
<text transform="translate(503.70,210.45) rotate(-90)" font-size="1.9" font-weight="bold" text-anchor="middle" fill="#222">Voltage (V)</text>
<text x="506.50" y="219.90" font-size="1.7" font-weight="bold" fill="#222" text-anchor="end">0</text>
<text x="506.50" y="210.70" font-size="1.7" font-weight="bold" fill="#222" text-anchor="end">10</text>
<text x="506.50" y="201.50" font-size="1.7" font-weight="bold" fill="#222" text-anchor="end">20</text>
<text x="379.00" y="194.20" font-size="8.4" font-weight="bold" fill="#d2401e" text-anchor="start" stroke="#d2401e" stroke-width="0.22" textLength="26.50" lengthAdjust="spacingAndGlyphs">150MΩ</text>
<text x="409.00" y="194.20" font-size="8.4" font-weight="bold" fill="#4f8a2c" text-anchor="start" stroke="#4f8a2c" stroke-width="0.22" textLength="26.00" lengthAdjust="spacingAndGlyphs">100MΩ</text>
<text x="440.00" y="194.60" font-size="8.4" font-weight="bold" fill="#264f9c" text-anchor="start" stroke="#264f9c" stroke-width="0.22" textLength="22.40" lengthAdjust="spacingAndGlyphs">50MΩ</text>
<text x="472.40" y="194.60" font-size="8.4" font-weight="bold" fill="#d9701c" text-anchor="start" stroke="#d9701c" stroke-width="0.22" textLength="25.80" lengthAdjust="spacingAndGlyphs">500KΩ</text>
<text x="510.00" y="194.60" font-size="8.4" font-weight="bold" fill="#6a32a8" text-anchor="start" stroke="#6a32a8" stroke-width="0.22" textLength="25.80" lengthAdjust="spacingAndGlyphs">200KΩ</text>
<text x="463.00" y="248.40" font-size="8.6" font-weight="bold" fill="#f018e8" text-anchor="start" stroke="#f018e8" stroke-width="0.22" textLength="17.00" lengthAdjust="spacingAndGlyphs">1MΩ</text>
<rect x="377.80" y="184.30" width="164.90" height="116.10" fill="none" stroke="#000" stroke-width="1.3"/>
<text x="374.60" y="199.15" font-size="6.8" font-weight="bold" fill="#000" text-anchor="end" stroke="#000" stroke-width="0.22">210</text>
<text x="374.60" y="220.95" font-size="6.8" font-weight="bold" fill="#000" text-anchor="end" stroke="#000" stroke-width="0.22">140</text>
<text x="374.60" y="242.65" font-size="6.8" font-weight="bold" fill="#000" text-anchor="end" stroke="#000" stroke-width="0.22">70</text>
<text x="374.60" y="264.45" font-size="6.8" font-weight="bold" fill="#000" text-anchor="end" stroke="#000" stroke-width="0.22">0</text>
<text x="374.60" y="286.15" font-size="6.8" font-weight="bold" fill="#000" text-anchor="end" stroke="#000" stroke-width="0.22">-70</text>
<path d="M375.60 196.70H377.80M375.60 218.50H377.80M375.60 240.20H377.80M375.60 262.00H377.80M375.60 283.70H377.80" stroke="#000" stroke-width="1.1" fill="none"/>
<text transform="translate(358.60,240.60) rotate(-90)" font-size="8.4" font-weight="bold" fill="#000" stroke="#000" stroke-width="0.22" text-anchor="middle" textLength="43.70" lengthAdjust="spacingAndGlyphs">Voltage (V)</text>
<text x="446.90" y="311.80" font-size="8.8" font-weight="bold" fill="#000" text-anchor="middle" stroke="#000" stroke-width="0.22" textLength="33.80" lengthAdjust="spacingAndGlyphs">Time (s)</text>
</g>
<g id="panel-f">
<text x="10.60" y="325.60" font-size="10.4" font-weight="bold" fill="#000" text-anchor="start" stroke="#000" stroke-width="0.22" textLength="10.40" lengthAdjust="spacingAndGlyphs">(f)</text>
<path d="M42.70 419.30C43.82 419.30 45.70 419.35 49.40 419.30C53.10 419.25 61.20 419.05 64.90 419.00C68.60 418.95 65.72 419.12 71.60 419.00C77.48 418.88 93.92 419.15 100.20 418.30C106.48 417.45 107.22 414.90 109.30 413.90C111.38 412.90 111.52 412.97 112.70 412.30C113.88 411.63 114.72 413.45 116.40 409.90C118.08 406.35 120.22 395.32 122.80 391.00C125.38 386.68 129.33 386.80 131.90 384.00C134.47 381.20 134.52 378.02 138.20 374.20C141.88 370.38 150.23 365.63 154.00 361.10C157.77 356.57 159.00 351.70 160.80 347.00C162.60 342.30 163.07 335.25 164.80 332.90C166.53 330.55 170.13 332.90 171.20 332.90" stroke="#3a63ff" stroke-width="1.3" fill="none"/>
<circle cx="42.7" cy="419.3" r="1.6" fill="#ff2a2a" stroke="#ffcc00" stroke-width="0.7"/>
<circle cx="49.4" cy="419.3" r="1.6" fill="#ff2a2a" stroke="#ffcc00" stroke-width="0.7"/>
<circle cx="64.9" cy="419" r="1.6" fill="#ff2a2a" stroke="#ffcc00" stroke-width="0.7"/>
<circle cx="71.6" cy="419" r="1.6" fill="#ff2a2a" stroke="#ffcc00" stroke-width="0.7"/>
<circle cx="100.2" cy="418.3" r="1.6" fill="#ff2a2a" stroke="#ffcc00" stroke-width="0.7"/>
<circle cx="109.3" cy="413.9" r="1.6" fill="#ff2a2a" stroke="#ffcc00" stroke-width="0.7"/>
<circle cx="112.7" cy="412.3" r="1.6" fill="#ff2a2a" stroke="#ffcc00" stroke-width="0.7"/>
<circle cx="116.4" cy="409.9" r="1.6" fill="#ff2a2a" stroke="#ffcc00" stroke-width="0.7"/>
<circle cx="122.8" cy="391" r="1.6" fill="#ff2a2a" stroke="#ffcc00" stroke-width="0.7"/>
<circle cx="131.9" cy="384" r="1.6" fill="#ff2a2a" stroke="#ffcc00" stroke-width="0.7"/>
<circle cx="138.2" cy="374.2" r="1.6" fill="#ff2a2a" stroke="#ffcc00" stroke-width="0.7"/>
<circle cx="154" cy="361.1" r="1.6" fill="#ff2a2a" stroke="#ffcc00" stroke-width="0.7"/>
<circle cx="160.8" cy="347" r="1.6" fill="#ff2a2a" stroke="#ffcc00" stroke-width="0.7"/>
<circle cx="164.8" cy="332.9" r="1.6" fill="#ff2a2a" stroke="#ffcc00" stroke-width="0.7"/>
<circle cx="171.2" cy="332.9" r="1.6" fill="#ff2a2a" stroke="#ffcc00" stroke-width="0.7"/>
<rect x="39" y="324.4" width="38.4" height="9" fill="#fff" stroke="#bdbdbd" stroke-width="0.5"/>
<path d="M40.5 328.6H51.2" stroke="#3a63ff" stroke-width="1.3"/>
<circle cx="45.9" cy="328.6" r="1.6" fill="#ff2a2a" stroke="#ffcc00" stroke-width="0.6"/>
<text x="53.00" y="331.30" font-size="6.6" font-weight="bold" fill="#000" text-anchor="start" stroke="#000" stroke-width="0.22" textLength="22.80" lengthAdjust="spacingAndGlyphs">Voltage</text>
<rect x="31.30" y="320.40" width="146.00" height="110.30" fill="none" stroke="#000" stroke-width="1.3"/>
<text x="28.50" y="334.52" font-size="8.4" font-weight="bold" fill="#000" text-anchor="end" stroke="#000" stroke-width="0.22">200</text>
<text x="28.50" y="352.12" font-size="8.4" font-weight="bold" fill="#000" text-anchor="end" stroke="#000" stroke-width="0.22">160</text>
<text x="28.50" y="369.82" font-size="8.4" font-weight="bold" fill="#000" text-anchor="end" stroke="#000" stroke-width="0.22">120</text>
<text x="28.50" y="387.42" font-size="8.4" font-weight="bold" fill="#000" text-anchor="end" stroke="#000" stroke-width="0.22">80</text>
<text x="28.50" y="405.12" font-size="8.4" font-weight="bold" fill="#000" text-anchor="end" stroke="#000" stroke-width="0.22">40</text>
<text x="28.50" y="422.72" font-size="8.4" font-weight="bold" fill="#000" text-anchor="end" stroke="#000" stroke-width="0.22">0</text>
<path d="M29.10 331.50H31.30M29.10 349.10H31.30M29.10 366.80H31.30M29.10 384.40H31.30M29.10 402.10H31.30M29.10 419.70H31.30" stroke="#000" stroke-width="1.1" fill="none"/>
<path d="M49.50 430.70V432.90M71.80 430.70V432.90M94.10 430.70V432.90M116.40 430.70V432.90M138.70 430.70V432.90M161.00 430.70V432.90" stroke="#000" stroke-width="1.1" fill="none"/>
<text x="52.60" y="442.30" font-size="8.1" font-weight="bold" fill="#000" text-anchor="end" stroke="#000" stroke-width="0.22">10</text>
<text x="52.10" y="438.90" font-size="5.2" font-weight="bold" fill="#000" text-anchor="start">3</text>
<text x="74.90" y="442.30" font-size="8.1" font-weight="bold" fill="#000" text-anchor="end" stroke="#000" stroke-width="0.22">10</text>
<text x="74.40" y="438.90" font-size="5.2" font-weight="bold" fill="#000" text-anchor="start">4</text>
<text x="97.20" y="442.30" font-size="8.1" font-weight="bold" fill="#000" text-anchor="end" stroke="#000" stroke-width="0.22">10</text>
<text x="96.70" y="438.90" font-size="5.2" font-weight="bold" fill="#000" text-anchor="start">5</text>
<text x="119.50" y="442.30" font-size="8.1" font-weight="bold" fill="#000" text-anchor="end" stroke="#000" stroke-width="0.22">10</text>
<text x="119.00" y="438.90" font-size="5.2" font-weight="bold" fill="#000" text-anchor="start">6</text>
<text x="141.80" y="442.30" font-size="8.1" font-weight="bold" fill="#000" text-anchor="end" stroke="#000" stroke-width="0.22">10</text>
<text x="141.30" y="438.90" font-size="5.2" font-weight="bold" fill="#000" text-anchor="start">7</text>
<text x="164.10" y="442.30" font-size="8.1" font-weight="bold" fill="#000" text-anchor="end" stroke="#000" stroke-width="0.22">10</text>
<text x="163.60" y="438.90" font-size="5.2" font-weight="bold" fill="#000" text-anchor="start">8</text>
<text transform="translate(11.80,378.00) rotate(-90)" font-size="8.6" font-weight="bold" fill="#000" stroke="#000" stroke-width="0.22" text-anchor="middle" textLength="45.00" lengthAdjust="spacingAndGlyphs">Voltage (V)</text>
<text x="76.60" y="451.60" font-size="8.1" font-weight="bold" fill="#000" text-anchor="start" stroke="#000" stroke-width="0.22" textLength="42.40" lengthAdjust="spacingAndGlyphs">Resistance</text>
<text x="121.90" y="451.40" font-size="7.6" font-weight="bold" fill="#000" text-anchor="start" stroke="#000" stroke-width="0.22">(</text>
<text x="124.60" y="451.50" font-size="7.8" font-weight="bold" fill="#000" style="font-family:'Liberation Serif','DejaVu Serif',serif">Ω</text>
<text x="130.80" y="451.40" font-size="7.6" font-weight="bold" fill="#000" text-anchor="start" stroke="#000" stroke-width="0.22">)</text>
</g>
<g id="panel-g">
<text x="187.00" y="326.20" font-size="10.4" font-weight="bold" fill="#000" text-anchor="start" stroke="#000" stroke-width="0.22" textLength="12.80" lengthAdjust="spacingAndGlyphs">(g)</text>
<path d="M224.00 424.00C225.17 423.93 227.25 423.72 231.00 423.60C234.75 423.48 242.77 423.40 246.50 423.30C250.23 423.20 247.35 423.05 253.40 423.00C259.45 422.95 276.40 424.90 282.80 423.00C289.20 421.10 289.73 414.03 291.80 411.60C293.87 409.17 294.12 409.73 295.20 408.40C296.28 407.07 296.57 414.88 298.30 403.60C300.03 392.32 302.95 345.88 305.60 340.70C308.25 335.52 311.62 365.47 314.20 372.50C316.78 379.53 317.35 376.50 321.10 382.90C324.85 389.30 332.95 405.78 336.70 410.90C340.45 416.02 341.77 413.03 343.60 413.60C345.43 414.17 345.87 413.32 347.70 414.30C349.53 415.28 353.45 418.63 354.60 419.50" stroke="#2db52d" stroke-width="1.3" fill="none"/>
<circle cx="224" cy="424" r="1.55" fill="#ee1c1c" stroke="#ff8a1a" stroke-width="0.6"/>
<circle cx="231" cy="423.6" r="1.55" fill="#ee1c1c" stroke="#ff8a1a" stroke-width="0.6"/>
<circle cx="246.5" cy="423.3" r="1.55" fill="#ee1c1c" stroke="#ff8a1a" stroke-width="0.6"/>
<circle cx="253.4" cy="423" r="1.55" fill="#ee1c1c" stroke="#ff8a1a" stroke-width="0.6"/>
<circle cx="282.8" cy="423" r="1.55" fill="#ee1c1c" stroke="#ff8a1a" stroke-width="0.6"/>
<circle cx="291.8" cy="411.6" r="1.55" fill="#ee1c1c" stroke="#ff8a1a" stroke-width="0.6"/>
<circle cx="295.2" cy="408.4" r="1.55" fill="#ee1c1c" stroke="#ff8a1a" stroke-width="0.6"/>
<circle cx="298.3" cy="403.6" r="1.55" fill="#ee1c1c" stroke="#ff8a1a" stroke-width="0.6"/>
<circle cx="305.6" cy="340.7" r="1.55" fill="#ee1c1c" stroke="#ff8a1a" stroke-width="0.6"/>
<circle cx="314.2" cy="372.5" r="1.55" fill="#ee1c1c" stroke="#ff8a1a" stroke-width="0.6"/>
<circle cx="321.1" cy="382.9" r="1.55" fill="#ee1c1c" stroke="#ff8a1a" stroke-width="0.6"/>
<circle cx="336.7" cy="410.9" r="1.55" fill="#ee1c1c" stroke="#ff8a1a" stroke-width="0.6"/>
<circle cx="343.6" cy="413.6" r="1.55" fill="#ee1c1c" stroke="#ff8a1a" stroke-width="0.6"/>
<circle cx="347.7" cy="414.3" r="1.55" fill="#ee1c1c" stroke="#ff8a1a" stroke-width="0.6"/>
<circle cx="354.6" cy="419.5" r="1.55" fill="#ee1c1c" stroke="#ff8a1a" stroke-width="0.6"/>
<rect x="229" y="330.5" width="42.6" height="10.6" fill="#fff" stroke="#bdbdbd" stroke-width="0.5"/>
<path d="M230.6 335.6H245" stroke="#2db52d" stroke-width="1.3"/>
<circle cx="237.6" cy="335.6" r="1.7" fill="#ee1c1c" stroke="#ff8a1a" stroke-width="0.5"/>
<text x="247.00" y="338.70" font-size="8" font-weight="bold" fill="#000" text-anchor="start" stroke="#000" stroke-width="0.22" textLength="23.40" lengthAdjust="spacingAndGlyphs">Power</text>
<rect x="214.60" y="322.00" width="149.70" height="110.60" fill="none" stroke="#000" stroke-width="1.3"/>
<text x="211.80" y="328.55" font-size="8.2" font-weight="bold" fill="#000" text-anchor="end" stroke="#000" stroke-width="0.22">2.5</text>
<text x="211.80" y="348.45" font-size="8.2" font-weight="bold" fill="#000" text-anchor="end" stroke="#000" stroke-width="0.22">2.0</text>
<text x="211.80" y="368.25" font-size="8.2" font-weight="bold" fill="#000" text-anchor="end" stroke="#000" stroke-width="0.22">1.5</text>
<text x="211.80" y="388.15" font-size="8.2" font-weight="bold" fill="#000" text-anchor="end" stroke="#000" stroke-width="0.22">1.0</text>
<text x="211.80" y="407.95" font-size="8.2" font-weight="bold" fill="#000" text-anchor="end" stroke="#000" stroke-width="0.22">0.5</text>
<text x="211.80" y="427.85" font-size="8.2" font-weight="bold" fill="#000" text-anchor="end" stroke="#000" stroke-width="0.22">0.0</text>
<path d="M212.40 325.60H214.60M212.40 345.50H214.60M212.40 365.30H214.60M212.40 385.20H214.60M212.40 405.00H214.60M212.40 424.90H214.60" stroke="#000" stroke-width="1.1" fill="none"/>
<path d="M231.00 432.60V434.80M253.40 432.60V434.80M275.80 432.60V434.80M298.20 432.60V434.80M320.60 432.60V434.80M343.00 432.60V434.80" stroke="#000" stroke-width="1.1" fill="none"/>
<text x="234.40" y="444.70" font-size="7.8" font-weight="bold" fill="#000" text-anchor="end" stroke="#000" stroke-width="0.22">10</text>
<text x="233.90" y="441.40" font-size="5.0" font-weight="bold" fill="#000" text-anchor="start">3</text>
<text x="256.80" y="444.70" font-size="7.8" font-weight="bold" fill="#000" text-anchor="end" stroke="#000" stroke-width="0.22">10</text>
<text x="256.30" y="441.40" font-size="5.0" font-weight="bold" fill="#000" text-anchor="start">4</text>
<text x="279.20" y="444.70" font-size="7.8" font-weight="bold" fill="#000" text-anchor="end" stroke="#000" stroke-width="0.22">10</text>
<text x="278.70" y="441.40" font-size="5.0" font-weight="bold" fill="#000" text-anchor="start">5</text>
<text x="301.60" y="444.70" font-size="7.8" font-weight="bold" fill="#000" text-anchor="end" stroke="#000" stroke-width="0.22">10</text>
<text x="301.10" y="441.40" font-size="5.0" font-weight="bold" fill="#000" text-anchor="start">6</text>
<text x="324.00" y="444.70" font-size="7.8" font-weight="bold" fill="#000" text-anchor="end" stroke="#000" stroke-width="0.22">10</text>
<text x="323.50" y="441.40" font-size="5.0" font-weight="bold" fill="#000" text-anchor="start">7</text>
<text x="346.40" y="444.70" font-size="7.8" font-weight="bold" fill="#000" text-anchor="end" stroke="#000" stroke-width="0.22">10</text>
<text x="345.90" y="441.40" font-size="5.0" font-weight="bold" fill="#000" text-anchor="start">8</text>
<text transform="translate(199.80,379.60) rotate(-90)" font-size="8.2" font-weight="bold" fill="#000" stroke="#000" stroke-width="0.22" text-anchor="middle" textLength="47.30" lengthAdjust="spacingAndGlyphs">Power (mW)</text>
<text x="262.30" y="452.70" font-size="7.9" font-weight="bold" fill="#000" text-anchor="start" stroke="#000" stroke-width="0.22" textLength="42.20" lengthAdjust="spacingAndGlyphs">Resistance</text>
<text x="307.00" y="452.50" font-size="6.4" font-weight="bold" fill="#000" text-anchor="start" stroke="#000" stroke-width="0.22">(</text>
<text x="309.40" y="452.60" font-size="6.8" font-weight="bold" fill="#000" style="font-family:'Liberation Serif','DejaVu Serif',serif">Ω</text>
<text x="315.40" y="452.50" font-size="6.4" font-weight="bold" fill="#000" text-anchor="start" stroke="#000" stroke-width="0.22">)</text>
</g>
<g id="panel-h">
<text x="369.60" y="325.20" font-size="10.4" font-weight="bold" fill="#000" text-anchor="start" stroke="#000" stroke-width="0.22" textLength="12.80" lengthAdjust="spacingAndGlyphs">(h)</text>
<path d="M396.20 350.60h1.14V426.00h-1.14zM397.29 350.60h1.14V426.00h-1.14zM398.37 350.60h1.14V426.00h-1.14zM399.46 350.60h1.14V426.00h-1.14zM400.55 350.60h1.14V426.00h-1.14zM401.63 350.60h1.14V426.00h-1.14zM402.72 348.20h1.14V426.00h-1.14zM403.81 348.20h1.14V426.00h-1.14zM404.90 348.20h1.14V426.00h-1.14zM405.98 348.20h1.14V426.00h-1.14zM407.07 345.60h1.14V426.00h-1.14zM408.16 342.40h1.14V426.00h-1.14zM409.24 343.40h1.14V426.00h-1.14zM410.33 346.00h1.14V426.00h-1.14zM411.42 346.00h1.14V426.00h-1.14zM412.50 342.20h1.14V426.00h-1.14zM413.59 346.20h1.14V426.00h-1.14zM414.68 346.00h1.14V426.00h-1.14zM415.77 346.00h1.14V426.00h-1.14zM416.85 342.60h1.14V426.00h-1.14zM417.94 342.40h1.14V426.00h-1.14zM419.03 346.20h1.14V426.00h-1.14zM420.11 343.40h1.14V426.00h-1.14zM421.20 342.60h1.14V426.00h-1.14zM422.29 346.20h1.14V426.00h-1.14zM423.37 349.60h1.14V426.00h-1.14zM424.46 349.60h1.14V426.00h-1.14zM425.55 343.40h1.14V426.00h-1.14zM426.63 345.60h1.14V426.00h-1.14zM427.72 346.00h1.14V426.00h-1.14zM428.81 345.60h1.14V426.00h-1.14zM429.90 342.20h1.14V426.00h-1.14zM430.98 342.40h1.14V426.00h-1.14zM432.07 346.20h1.14V426.00h-1.14zM433.16 343.40h1.14V426.00h-1.14zM434.24 346.20h1.14V426.00h-1.14zM435.33 346.20h1.14V426.00h-1.14zM436.42 345.60h1.14V426.00h-1.14zM437.50 342.60h1.14V426.00h-1.14zM438.59 342.20h1.14V426.00h-1.14zM439.68 342.60h1.14V426.00h-1.14zM440.77 345.60h1.14V426.00h-1.14zM441.85 345.60h1.14V426.00h-1.14zM442.94 342.40h1.14V426.00h-1.14zM444.03 345.60h1.14V426.00h-1.14zM445.11 342.40h1.14V426.00h-1.14zM446.20 343.40h1.14V426.00h-1.14z" fill="#f47c7c" opacity="1.0"/>
<path d="M396.60 350.60V426.00M397.69 350.60V426.00M398.77 350.60V426.00M399.86 350.60V426.00M400.95 350.60V426.00M402.03 350.60V426.00M403.12 348.20V426.00M404.21 348.20V426.00M405.30 348.20V426.00M406.38 348.20V426.00M407.47 345.60V426.00M408.56 342.40V426.00M409.64 343.40V426.00M410.73 346.00V426.00M411.82 346.00V426.00M412.90 342.20V426.00M413.99 346.20V426.00M415.08 346.00V426.00M416.17 346.00V426.00M417.25 342.60V426.00M418.34 342.40V426.00M419.43 346.20V426.00M420.51 343.40V426.00M421.60 342.60V426.00M422.69 346.20V426.00M423.77 349.60V426.00M424.86 349.60V426.00M425.95 343.40V426.00M427.03 345.60V426.00M428.12 346.00V426.00M429.21 345.60V426.00M430.30 342.20V426.00M431.38 342.40V426.00M432.47 346.20V426.00M433.56 343.40V426.00M434.64 346.20V426.00M435.73 346.20V426.00M436.82 345.60V426.00M437.90 342.60V426.00M438.99 342.20V426.00M440.08 342.60V426.00M441.17 345.60V426.00M442.25 345.60V426.00M443.34 342.40V426.00M444.43 345.60V426.00M445.51 342.40V426.00M446.60 343.40V426.00" stroke="#f15c5c" stroke-width="0.7" fill="none" opacity="1.0"/>
<polygon points="396.20,406.31 397.96,410.84 399.72,406.30 401.49,408.05 403.25,406.86 405.01,409.31 406.77,408.86 408.53,409.16 410.30,409.23 412.06,408.74 413.82,408.02 415.58,407.10 417.34,408.41 419.11,409.00 420.87,407.17 422.63,408.08 424.39,406.34 426.16,410.52 427.92,407.62 429.68,408.09 431.44,406.68 433.20,407.44 434.97,408.79 436.73,408.83 438.49,408.16 440.25,407.60 442.01,406.43 443.78,409.99 445.54,407.62 447.30,406.30 447.30,426.00 445.54,426.00 443.78,426.00 442.01,426.00 440.25,426.00 438.49,426.00 436.73,426.00 434.97,426.00 433.20,426.00 431.44,426.00 429.68,426.00 427.92,426.00 426.16,426.00 424.39,426.00 422.63,426.00 420.87,426.00 419.11,426.00 417.34,426.00 415.58,426.00 413.82,426.00 412.06,426.00 410.30,426.00 408.53,426.00 406.77,426.00 405.01,426.00 403.25,426.00 401.49,426.00 399.72,426.00 397.96,426.00 396.20,426.00" fill="#ec3c3c" opacity="0.45"/>
<path d="M395.9 426.5H447.5" stroke="#ff0000" stroke-width="2.4"/>
<path d="M422 330.2H433.2" stroke="#f26464" stroke-width="1.1"/>
<text x="435.60" y="332.70" font-size="6.6" font-weight="bold" fill="#000" text-anchor="start" stroke="#000" stroke-width="0.22" textLength="10.20" lengthAdjust="spacingAndGlyphs">4 M</text>
<text x="445.90" y="332.70" font-size="7.4" font-weight="bold" fill="#000" style="font-family:'Liberation Serif','DejaVu Serif',serif">Ω</text>
<rect x="389.70" y="322.60" width="63.90" height="114.80" fill="none" stroke="#000" stroke-width="1.3"/>
<text x="386.50" y="335.38" font-size="6.6" font-weight="bold" fill="#000" text-anchor="end" stroke="#000" stroke-width="0.22">90</text>
<text x="386.50" y="354.08" font-size="6.6" font-weight="bold" fill="#000" text-anchor="end" stroke="#000" stroke-width="0.22">72</text>
<text x="386.50" y="372.78" font-size="6.6" font-weight="bold" fill="#000" text-anchor="end" stroke="#000" stroke-width="0.22">54</text>
<text x="386.50" y="391.48" font-size="6.6" font-weight="bold" fill="#000" text-anchor="end" stroke="#000" stroke-width="0.22">36</text>
<text x="386.50" y="410.18" font-size="6.6" font-weight="bold" fill="#000" text-anchor="end" stroke="#000" stroke-width="0.22">18</text>
<text x="386.50" y="428.88" font-size="6.6" font-weight="bold" fill="#000" text-anchor="end" stroke="#000" stroke-width="0.22">0</text>
<path d="M387.50 333.00H389.70M387.50 351.70H389.70M387.50 370.40H389.70M387.50 389.10H389.70M387.50 407.80H389.70M387.50 426.50H389.70" stroke="#000" stroke-width="1.1" fill="none"/>
<text x="396.00" y="446.00" font-size="6.8" font-weight="bold" fill="#000" text-anchor="middle" stroke="#000" stroke-width="0.22">0</text>
<text x="420.30" y="446.00" font-size="6.8" font-weight="bold" fill="#000" text-anchor="middle" stroke="#000" stroke-width="0.22">7</text>
<text x="444.60" y="446.00" font-size="6.8" font-weight="bold" fill="#000" text-anchor="middle" stroke="#000" stroke-width="0.22">14</text>
<path d="M396.00 437.40V439.60M420.30 437.40V439.60M444.60 437.40V439.60" stroke="#000" stroke-width="1.1" fill="none"/>
<text transform="translate(374.60,381.00) rotate(-90)" font-size="8.8" font-weight="bold" fill="#000" stroke="#000" stroke-width="0.22" text-anchor="middle" textLength="44.00" lengthAdjust="spacingAndGlyphs">Voltage (V)</text>
<text x="422.00" y="455.60" font-size="9.2" font-weight="bold" fill="#000" text-anchor="middle" stroke="#000" stroke-width="0.22" textLength="32.00" lengthAdjust="spacingAndGlyphs">Time (s)</text>
<path d="M486.20 342.00h1.15V418.40h-1.15zM487.30 342.00h1.15V418.80h-1.15zM488.39 342.00h1.15V424.00h-1.15zM489.49 342.00h1.15V428.60h-1.15zM490.58 342.00h1.15V429.40h-1.15zM491.68 342.00h1.15V428.40h-1.15zM492.77 342.00h1.15V423.20h-1.15zM493.87 342.00h1.15V427.00h-1.15zM494.97 342.00h1.15V424.80h-1.15zM496.06 342.00h1.15V426.40h-1.15zM497.16 342.00h1.15V424.80h-1.15zM498.25 342.00h1.15V423.20h-1.15zM499.35 342.00h1.15V426.40h-1.15zM500.44 342.00h1.15V425.40h-1.15zM501.54 342.00h1.15V427.00h-1.15zM502.63 342.00h1.15V427.00h-1.15zM503.73 342.00h1.15V424.80h-1.15zM504.83 342.00h1.15V427.00h-1.15zM505.92 342.00h1.15V422.60h-1.15zM507.02 342.00h1.15V422.60h-1.15zM508.11 342.00h1.15V423.20h-1.15zM509.21 342.00h1.15V426.40h-1.15zM510.30 342.00h1.15V423.20h-1.15zM511.40 342.00h1.15V422.60h-1.15zM512.50 342.00h1.15V422.60h-1.15zM513.59 342.00h1.15V424.20h-1.15zM514.69 342.00h1.15V423.20h-1.15zM515.78 342.00h1.15V424.20h-1.15zM516.88 342.00h1.15V425.40h-1.15zM517.97 342.00h1.15V427.00h-1.15zM519.07 342.00h1.15V422.60h-1.15zM520.17 342.00h1.15V425.40h-1.15zM521.26 342.00h1.15V427.00h-1.15zM522.36 342.00h1.15V424.80h-1.15zM523.45 342.00h1.15V426.40h-1.15zM524.55 342.00h1.15V424.20h-1.15zM525.64 342.00h1.15V427.00h-1.15zM526.74 342.00h1.15V427.00h-1.15zM527.83 342.00h1.15V427.00h-1.15zM528.93 342.00h1.15V423.20h-1.15zM530.03 342.00h1.15V426.40h-1.15zM531.12 342.00h1.15V425.40h-1.15zM532.22 342.00h1.15V425.40h-1.15zM533.31 342.00h1.15V426.40h-1.15zM534.41 342.00h1.15V418.60h-1.15zM535.50 342.00h1.15V418.20h-1.15zM536.60 342.00h1.15V423.00h-1.15z" fill="#7878f6" opacity="1.0"/>
<path d="M486.60 342.00V418.40M487.70 342.00V418.80M488.79 342.00V424.00M489.89 342.00V428.60M490.98 342.00V429.40M492.08 342.00V428.40M493.17 342.00V423.20M494.27 342.00V427.00M495.37 342.00V424.80M496.46 342.00V426.40M497.56 342.00V424.80M498.65 342.00V423.20M499.75 342.00V426.40M500.84 342.00V425.40M501.94 342.00V427.00M503.03 342.00V427.00M504.13 342.00V424.80M505.23 342.00V427.00M506.32 342.00V422.60M507.42 342.00V422.60M508.51 342.00V423.20M509.61 342.00V426.40M510.70 342.00V423.20M511.80 342.00V422.60M512.90 342.00V422.60M513.99 342.00V424.20M515.09 342.00V423.20M516.18 342.00V424.20M517.28 342.00V425.40M518.37 342.00V427.00M519.47 342.00V422.60M520.57 342.00V425.40M521.66 342.00V427.00M522.76 342.00V424.80M523.85 342.00V426.40M524.95 342.00V424.20M526.04 342.00V427.00M527.14 342.00V427.00M528.23 342.00V427.00M529.33 342.00V423.20M530.43 342.00V426.40M531.52 342.00V425.40M532.62 342.00V425.40M533.71 342.00V426.40M534.81 342.00V418.60M535.90 342.00V418.20M537.00 342.00V423.00" stroke="#5a5af3" stroke-width="0.7" fill="none" opacity="1.0"/>
<polygon points="486.20,342.00 487.98,342.00 489.75,342.00 491.53,342.00 493.30,342.00 495.08,342.00 496.86,342.00 498.63,342.00 500.41,342.00 502.18,342.00 503.96,342.00 505.73,342.00 507.51,342.00 509.29,342.00 511.06,342.00 512.84,342.00 514.61,342.00 516.39,342.00 518.17,342.00 519.94,342.00 521.72,342.00 523.49,342.00 525.27,342.00 527.04,342.00 528.82,342.00 530.60,342.00 532.37,342.00 534.15,342.00 535.92,342.00 537.70,342.00 537.70,362.93 535.92,358.35 534.15,359.56 532.37,358.67 530.60,362.01 528.82,363.49 527.04,362.36 525.27,357.59 523.49,361.77 521.72,363.13 519.94,360.44 518.17,361.95 516.39,359.56 514.61,359.79 512.84,357.52 511.06,358.30 509.29,363.27 507.51,363.38 505.73,357.53 503.96,360.30 502.18,363.15 500.41,358.98 498.63,362.09 496.86,363.43 495.08,362.85 493.30,358.54 491.53,359.45 489.75,358.67 487.98,362.39 486.20,359.69" fill="#2c2cf0" opacity="0.4"/>
<path d="M486 341.6H537.8" stroke="#1a1af0" stroke-width="2.4" stroke-linecap="round"/>
<path d="M510 330.4H521.4" stroke="#5a5af0" stroke-width="1.1"/>
<text x="523.80" y="332.80" font-size="6.6" font-weight="bold" fill="#000" text-anchor="start" stroke="#000" stroke-width="0.22" textLength="10.20" lengthAdjust="spacingAndGlyphs">5 M</text>
<text x="534.10" y="332.80" font-size="7.4" font-weight="bold" fill="#000" style="font-family:'Liberation Serif','DejaVu Serif',serif">Ω</text>
<rect x="479.40" y="322.60" width="65.20" height="114.80" fill="none" stroke="#000" stroke-width="1.3"/>
<text x="476.20" y="343.98" font-size="6.6" font-weight="bold" fill="#000" text-anchor="end" stroke="#000" stroke-width="0.22">0</text>
<text x="476.20" y="366.78" font-size="6.6" font-weight="bold" fill="#000" text-anchor="end" stroke="#000" stroke-width="0.22">-24</text>
<text x="476.20" y="389.68" font-size="6.6" font-weight="bold" fill="#000" text-anchor="end" stroke="#000" stroke-width="0.22">-48</text>
<text x="476.20" y="412.58" font-size="6.6" font-weight="bold" fill="#000" text-anchor="end" stroke="#000" stroke-width="0.22">-72</text>
<text x="476.20" y="435.38" font-size="6.6" font-weight="bold" fill="#000" text-anchor="end" stroke="#000" stroke-width="0.22">-96</text>
<path d="M477.20 341.60H479.40M477.20 364.40H479.40M477.20 387.30H479.40M477.20 410.20H479.40M477.20 433.00H479.40" stroke="#000" stroke-width="1.1" fill="none"/>
<text x="490.60" y="446.00" font-size="6.8" font-weight="bold" fill="#000" text-anchor="middle" stroke="#000" stroke-width="0.22">2</text>
<text x="514.60" y="446.00" font-size="6.8" font-weight="bold" fill="#000" text-anchor="middle" stroke="#000" stroke-width="0.22">9.5</text>
<text x="538.60" y="446.00" font-size="6.8" font-weight="bold" fill="#000" text-anchor="middle" stroke="#000" stroke-width="0.22">17</text>
<path d="M490.60 437.40V439.60M514.60 437.40V439.60M538.60 437.40V439.60" stroke="#000" stroke-width="1.1" fill="none"/>
<text transform="translate(464.40,381.00) rotate(-90)" font-size="8.8" font-weight="bold" fill="#000" stroke="#000" stroke-width="0.22" text-anchor="middle" textLength="44.00" lengthAdjust="spacingAndGlyphs">Voltage (V)</text>
<text x="512.00" y="455.60" font-size="9.2" font-weight="bold" fill="#000" text-anchor="middle" stroke="#000" stroke-width="0.22" textLength="32.00" lengthAdjust="spacingAndGlyphs">Time (s)</text>
</g>
</svg></body></html>
